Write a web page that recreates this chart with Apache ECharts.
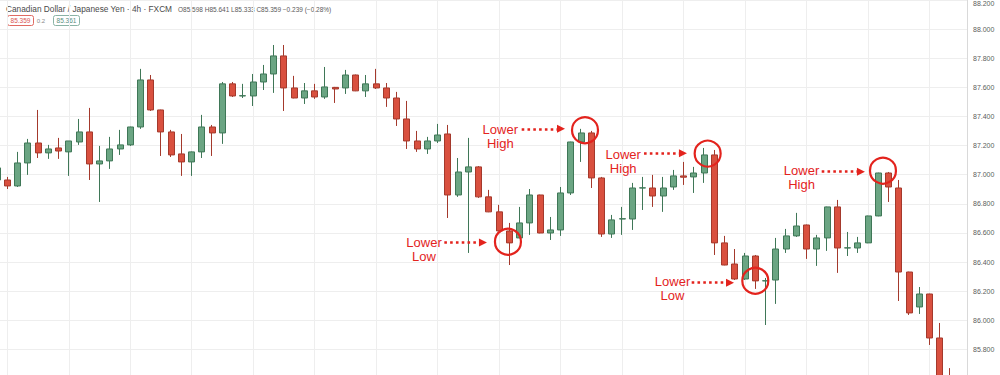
<!DOCTYPE html>
<html><head><meta charset="utf-8">
<script src="https://cdn.jsdelivr.net/npm/echarts@6.0.0/dist/echarts.min.js"></script>
<style>html,body{margin:0;padding:0;background:#fff}#c{width:1000px;height:375px}</style>
</head><body><div id="c"></div>
<script>
// ---- data (bar -1 is the one cut off at the left edge) ----
const barIndex = [-1,0,1,2,3,4,5,6,7,8,9,10,11,12,13,14,15,16,17,18,19,20,21,22,23,24,25,26,27,28,29,30,31,32,33,34,35,36,37,38,39,40,41,42,43,44,45,46,47,48,49,50,51,52,53,54,55,56,57,58,59,60,61,62,63,64,65,66,67,68,69,70,71,72,73,74,75,76,77,78,79,80,81,82,83,84,85,86,87,88,89,90,91,92];
const opens = [86.964,86.964,86.923,87.081,87.218,87.150,87.184,87.157,87.225,87.294,87.074,87.095,87.177,87.205,87.328,87.651,87.445,87.294,87.143,87.088,87.157,87.328,87.287,87.624,87.541,87.541,87.637,87.692,87.816,87.596,87.527,87.576,87.534,87.600,87.596,87.685,87.576,87.624,87.596,87.527,87.383,87.232,87.177,87.232,87.280,86.861,87.019,87.054,86.848,86.745,86.614,86.566,86.669,86.861,86.600,86.621,86.875,87.225,87.287,86.978,86.593,86.696,86.696,86.909,86.909,86.854,86.916,86.992,86.985,87.012,87.136,86.532,86.387,86.284,86.442,86.271,86.277,86.490,86.580,86.655,86.490,86.566,86.779,86.497,86.497,86.532,86.717,87.012,86.909,86.332,86.092,86.181,85.879,85.600];
const closes = [87.047,86.923,87.081,87.218,87.150,87.177,87.163,87.232,87.294,87.074,87.095,87.177,87.205,87.328,87.651,87.445,87.294,87.136,87.088,87.157,87.328,87.287,87.624,87.541,87.543,87.637,87.692,87.816,87.596,87.527,87.576,87.534,87.603,87.589,87.685,87.576,87.624,87.596,87.527,87.383,87.232,87.177,87.232,87.273,86.861,87.019,87.054,86.848,86.745,86.614,86.532,86.669,86.861,86.600,86.621,86.875,87.225,87.287,86.978,86.593,86.690,86.698,86.909,86.910,86.854,86.909,86.992,86.983,87.012,87.136,86.532,86.380,86.284,86.442,86.271,86.272,86.490,86.580,86.648,86.490,86.566,86.779,86.497,86.498,86.532,86.717,87.012,86.916,86.332,86.051,86.181,85.879,85.591,85.560];
const lows = [86.923,86.902,86.916,86.999,87.115,87.109,87.109,86.992,87.205,86.964,86.813,87.040,87.136,87.198,87.315,87.438,87.129,87.122,86.992,86.992,87.115,87.129,87.212,87.534,87.527,87.472,87.582,87.562,87.438,87.525,87.486,87.521,87.521,87.493,87.555,87.574,87.534,87.589,87.466,87.335,87.177,87.157,87.143,87.218,86.703,86.848,86.463,86.841,86.743,86.612,86.380,86.564,86.587,86.598,86.552,86.580,86.861,87.088,86.909,86.573,86.566,86.587,86.621,86.758,86.779,86.745,86.896,86.930,86.875,86.944,86.449,86.378,86.277,86.277,86.216,85.968,86.113,86.463,86.573,86.422,86.374,86.477,86.326,86.442,86.463,86.530,86.715,86.813,86.133,86.037,86.044,85.831,85.556,85.500];
const highs = [87.067,86.985,87.157,87.246,87.445,87.205,87.253,87.232,87.383,87.459,87.198,87.260,87.308,87.330,87.727,87.685,87.447,87.308,87.280,87.160,87.411,87.342,87.637,87.637,87.624,87.692,87.754,87.891,87.891,87.679,87.630,87.624,87.740,87.603,87.720,87.688,87.685,87.727,87.630,87.569,87.507,87.301,87.260,87.349,87.342,87.115,87.253,87.060,86.896,86.793,86.669,86.779,86.902,86.863,86.710,86.916,87.227,87.315,87.301,86.985,86.724,86.779,86.944,86.985,86.999,86.985,87.033,87.088,87.054,87.184,87.170,86.580,86.490,86.463,86.449,86.291,86.566,86.628,86.738,86.658,86.587,86.781,86.827,86.607,86.573,86.719,87.014,87.019,86.964,86.334,86.229,86.183,85.982,85.672];

// price scale
const priceMin = 85.6, priceMax = 88.2, priceStep = 0.2;

// header texts
const headerTitle = 'Canadian Dollar / Japanese Yen · 4h · FXCM';
const headerOHLC = 'O85.598 H85.641 L85.333 C85.359 −0.239 (−0.28%)';
const bidText = '85.359', spreadText = '0.2', askText = '85.361';

// annotations (bar index, price)
const noteLabels = ['Lower\nLow', 'Lower\nHigh', 'Lower\nHigh', 'Lower\nLow', 'Lower\nHigh'];
const noteTextAt = [[40.67, 86.486], [48.11, 87.264], [60.11, 87.094], [64.92, 86.220], [77.51, 86.978]];
const arrowFrom  = [[42.65, 86.534], [50.20, 87.315], [62.14, 87.148], [66.79, 86.259], [79.48, 87.021]];
const arrowTo    = [[46.42, 86.534], [54.04, 87.315], [65.94, 87.148], [70.53, 86.259], [83.31, 87.021]];
const circleAt   = [[48.86, 86.540], [56.38, 87.306], [68.35, 87.145], [73.00, 86.272], [85.46, 87.028]];

// ---- chart ----
const RED = '#e3231d';
const candles = barIndex.map((x, i) => [x, opens[i], closes[i], lows[i], highs[i]]);

const markPoints = [];
noteLabels.forEach((t, i) => {
  markPoints.push({
    coord: noteTextAt[i], symbol: 'rect', symbolSize: 1,
    itemStyle: { color: 'rgba(0,0,0,0)' },
    label: { show: true, position: 'inside', formatter: t, color: RED, fontSize: 13,
             lineHeight: 14, align: 'center', fontFamily: 'Liberation Sans' }
  });
  markPoints.push({
    coord: circleAt[i], symbol: 'circle', symbolSize: 26,
    itemStyle: { color: 'rgba(0,0,0,0)', borderColor: RED, borderWidth: 2.2 },
    label: { show: false }
  });
});
const markLines = arrowFrom.map((a, i) => [
  { coord: a, symbol: 'none' },
  { coord: arrowTo[i], symbol: 'triangle', symbolSize: [8, 8] }
]);

const chart = echarts.init(document.getElementById('c'), null, { renderer: 'svg' });
chart.setOption({
  animation: false,
  backgroundColor: '#ffffff',
  grid: { left: -54.18, right: 33, top: 0, bottom: -3.6, containLabel: false, outerBoundsMode: 'none' },
  xAxis: {
    type: 'value', min: -6, max: 93.66, interval: 6,
    axisLine: { show: false }, axisTick: { show: false }, axisLabel: { show: false },
    splitLine: { show: true, lineStyle: { color: '#eeeeee', width: 1 } }
  },
  yAxis: {
    type: 'value', position: 'right', min: priceMin, max: priceMax, interval: priceStep,
    axisLine: { show: true, onZero: false, lineStyle: { color: '#d9d9d9', width: 1 } },
    axisTick: { show: false },
    axisLabel: { show: true, margin: 6, color: '#5d5d5d', fontSize: 7, fontFamily: 'Liberation Sans',
                 showMinLabel: false, verticalAlignMaxLabel: 'top',
                 formatter: v => v.toFixed(3) },
    splitLine: { show: true, lineStyle: { color: '#eeeeee', width: 1 } }
  },
  series: [{
    type: 'candlestick',
    data: candles,
    encode: { x: 0, y: [1, 2, 3, 4] },
    barWidth: 6.5,
    silent: true,
    itemStyle: { color: '#6ba583', color0: '#d9503f', borderColor: '#3f7757', borderColor0: '#a4392c', borderWidth: 1 },
    markPoint: { silent: true, data: markPoints },
    markLine: {
      silent: true, symbol: ['none', 'triangle'],
      label: { show: false },
      lineStyle: { color: RED, width: 2.6, type: [2.6, 3.2] },
      emphasis: { disabled: true },
      data: markLines
    }
  }],
  graphic: [
    { type: 'text', left: 6, top: 4.5, style: { text: headerTitle, fill: '#4a4a4a', fontSize: 8.3, fontFamily: 'Liberation Sans' } },
    { type: 'text', left: 178, top: 5.5, style: { text: headerOHLC, fill: '#5a5a5a', fontSize: 6.5, fontFamily: 'Liberation Sans' } },
    { type: 'rect', shape: { x: 7.5, y: 15.5, width: 26, height: 10, r: 2 }, style: { fill: '#fff', stroke: '#e06a62', lineWidth: 1 } },
    { type: 'text', x: 20.5, y: 20.5, style: { text: bidText, fill: '#d9534f', fontSize: 6.5, align: 'center', verticalAlign: 'middle', fontFamily: 'Liberation Sans' } },
    { type: 'text', x: 41, y: 20.5, style: { text: spreadText, fill: '#8a8a8a', fontSize: 6, align: 'center', verticalAlign: 'middle', fontFamily: 'Liberation Sans' } },
    { type: 'rect', shape: { x: 53.5, y: 15.5, width: 26, height: 10, r: 2 }, style: { fill: '#fff', stroke: '#8ab3a5', lineWidth: 1 } },
    { type: 'text', x: 66.5, y: 20.5, style: { text: askText, fill: '#5b8f7e', fontSize: 6.5, align: 'center', verticalAlign: 'middle', fontFamily: 'Liberation Sans' } }
  ]
});
</script>
</body></html>
